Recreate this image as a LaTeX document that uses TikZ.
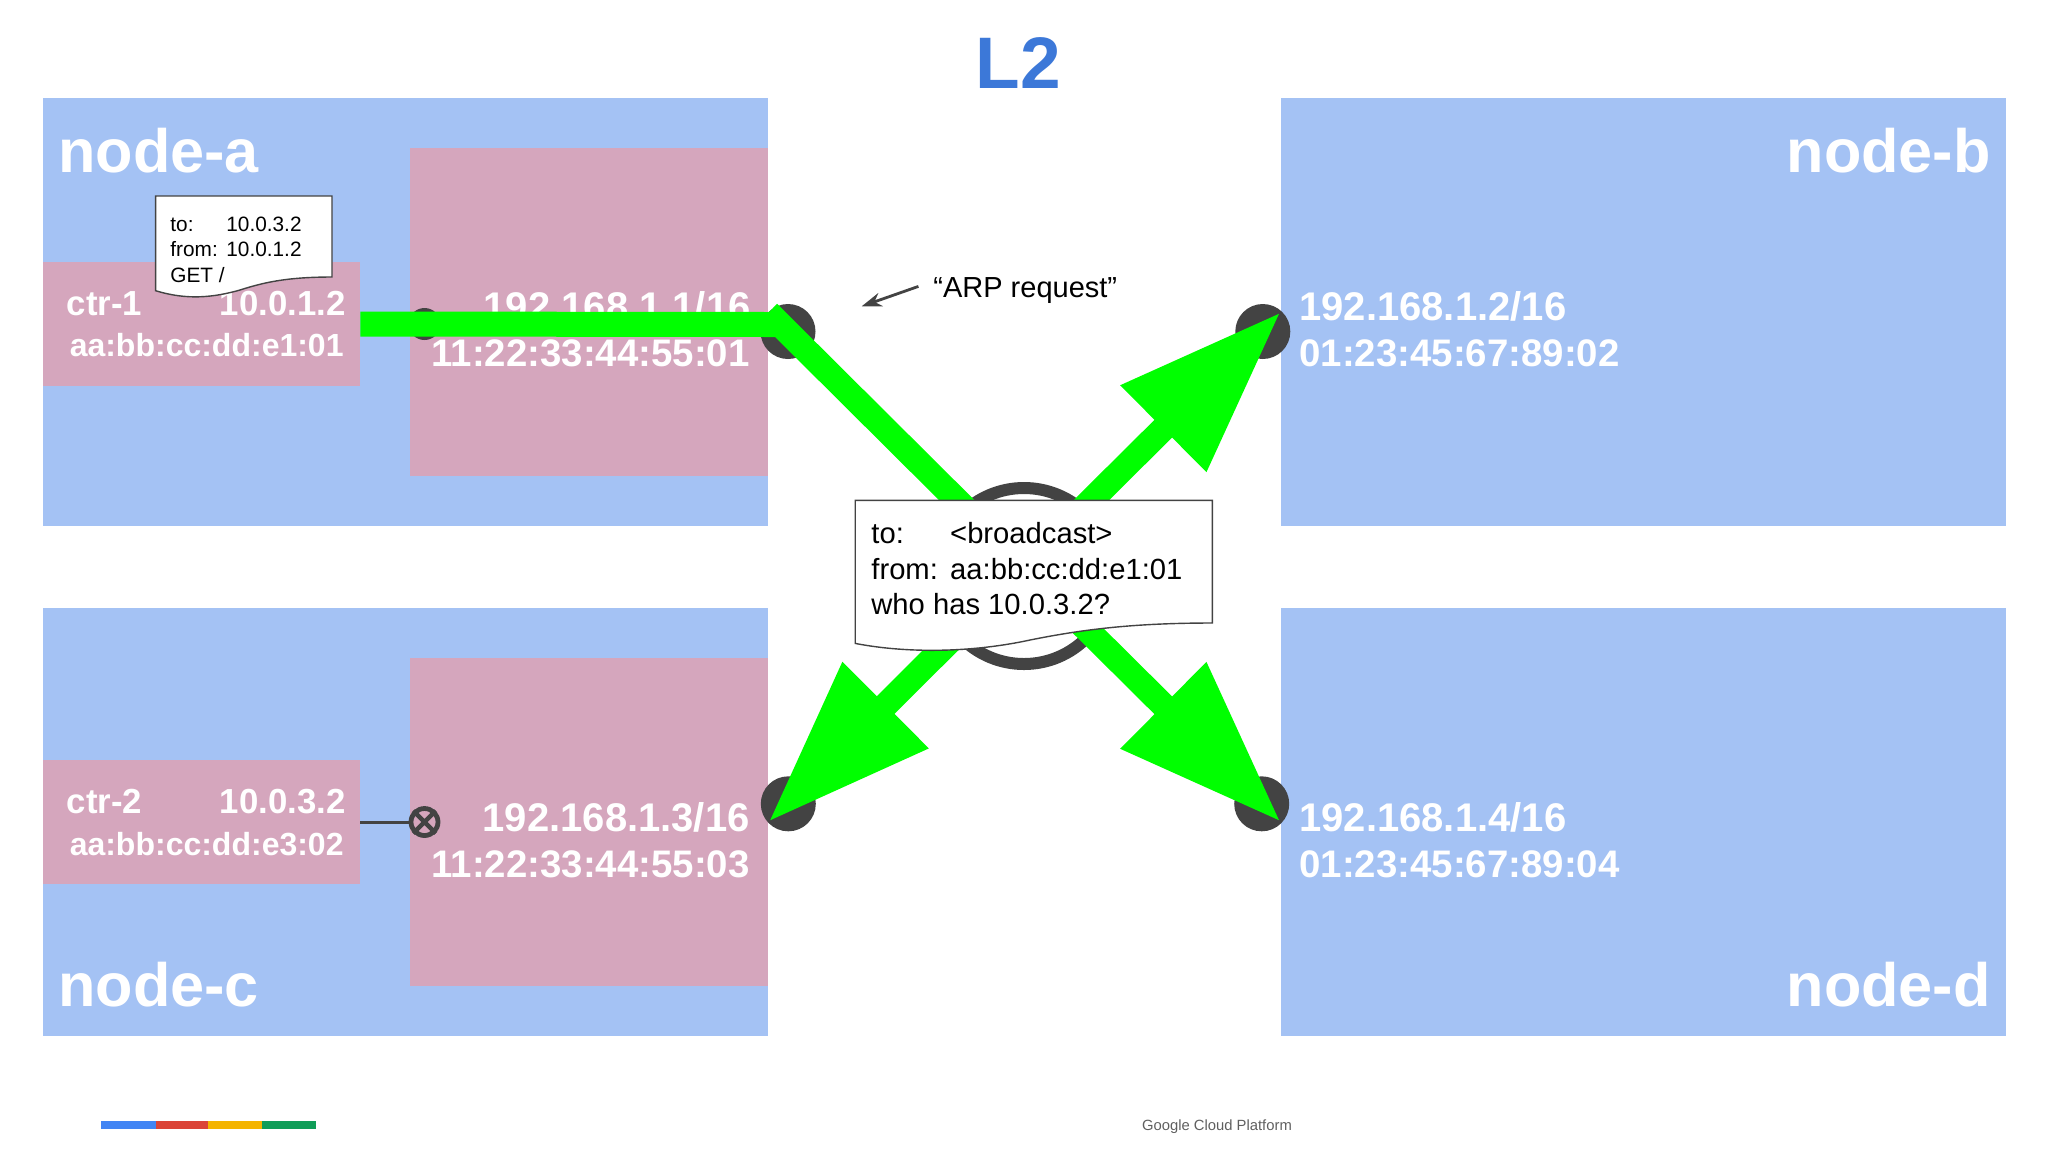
\documentclass[tikz,border=0pt]{standalone}
\usepackage{fontspec}
\setmainfont{Liberation Sans}
\usetikzlibrary{arrows.meta}
\definecolor{nodeblue}{HTML}{A4C2F4}
\definecolor{hostpink}{HTML}{D5A6BD}
\definecolor{dark}{HTML}{434343}
\definecolor{pure}{HTML}{00FF00}
\definecolor{titleblue}{HTML}{3C78D8}
\definecolor{gblue}{HTML}{4285F4}
\definecolor{gred}{HTML}{DB4437}
\definecolor{gyellow}{HTML}{F4B400}
\definecolor{ggreen}{HTML}{0F9D58}
\tikzset{
  x=0.5pt,y=-0.5pt,
  nodebox/.style={draw=none,fill=nodeblue,rectangle,inner sep=0,outer sep=0,minimum width=362.5pt,minimum height=214.1pt},
  hostbox/.style={draw=none,fill=hostpink,rectangle,inner sep=0,outer sep=0,minimum width=179pt,minimum height=164pt},
  ctrbox/.style={draw=none,fill=hostpink,rectangle,inner sep=0,outer sep=0,minimum width=158.5pt,minimum height=62pt},
  port/.style={circle,fill=dark,inner sep=0,minimum size=27.5pt},
  veth/.style={circle,fill=dark,inner sep=0,minimum size=16pt},
  title/.style={text=white,inner sep=0,font=\fontsize{30.6}{31}\selectfont\bfseries},
  addr/.style={text=white,inner sep=0,font=\fontsize{20}{20}\selectfont\bfseries},
  macaddr/.style={text=white,inner sep=0,font=\fontsize{19.2}{20}\selectfont\bfseries},
  ctrtxt/.style={text=white,inner sep=0,font=\fontsize{16}{16}\selectfont\bfseries},
  ctrip/.style={text=white,inner sep=0,font=\fontsize{17.4}{17.4}\selectfont\bfseries},
  bignote/.style={text=black,inner sep=0,font=\fontsize{14.6}{14.6}\selectfont},
  smallnote/.style={text=black,inner sep=0,font=\fontsize{10.4}{10.4}\selectfont},
  paper/.style={fill=white,draw=dark,line width=0.7pt,line join=miter},
  wire/.style={draw=pure,line width=12.5pt},
  bigarrow/.style={wire,-{Triangle[length=82.8pt,width=57.5pt]}},
}
\begin{document}
\begin{tikzpicture}
\useasboundingbox (0,0) rectangle (2048,1153);
% nodes
\node[nodebox,anchor=north west] (na) at (43.4,98) {};
\node[nodebox,anchor=north west] (nb) at (1281,98) {};
\node[nodebox,anchor=north west] (nc) at (43.4,608) {};
\node[nodebox,anchor=north west] (nd) at (1281,608) {};
\node[hostbox,anchor=north west] (ha) at (410.4,148) {};
\node[hostbox,anchor=north west] (hc) at (410.4,658) {};
\node[ctrbox,anchor=north west] (ca) at (43.4,262) {};
\node[ctrbox,anchor=north west] (cc) at (43.4,760) {};
% title
\node[anchor=base,inner sep=0,text=titleblue,font=\fontsize{36.5}{37}\selectfont\bfseries] (l2) at (1018,88.5) {L2};
\node[title,anchor=base west] (ta) at (58,172.7) {node-a};
\node[title,anchor=base east] (tb) at (1991,172.7) {node-b};
\node[title,anchor=base west] (tc) at (58,1006.7) {node-c};
\node[title,anchor=base east] (td) at (1991,1006.7) {node-d};
% addresses
\node[addr,anchor=base east] (ipa) at (751,320) {192.168.1.1/16};
\node[macaddr,anchor=base east] (maca) at (750,366) {11:22:33:44:55:01};
\node[addr,anchor=base east] (ipc) at (750,831) {192.168.1.3/16};
\node[macaddr,anchor=base east] (macc) at (750,877) {11:22:33:44:55:03};
\node[addr,anchor=base west] (ipb) at (1299,320) {192.168.1.2/16};
\node[macaddr,anchor=base west] (macb) at (1299,366) {01:23:45:67:89:02};
\node[addr,anchor=base west] (ipd) at (1299,831) {192.168.1.4/16};
\node[macaddr,anchor=base west] (macd) at (1299,877) {01:23:45:67:89:04};
\node[ctrip,anchor=base west] (cna) at (66.5,315.7) {ctr-1};
\node[ctrip,anchor=base east] (cia) at (346,315.7) {10.0.1.2};
\node[ctrtxt,anchor=base east] (cma) at (344,356.5) {aa:bb:cc:dd:e1:01};
\node[ctrip,anchor=base west] (cnc) at (66.5,813.3) {ctr-2};
\node[ctrip,anchor=base east] (cic) at (346,813.3) {10.0.3.2};
\node[ctrtxt,anchor=base east] (cmc) at (344,855) {aa:bb:cc:dd:e3:02};
% ports
\node[port] (pa) at (788,331.5) {};
\node[port] (pb) at (1262.8,331.5) {};
\node[port] (pc) at (788.3,803.8) {};
\node[port] (pd) at (1261.7,803.8) {};
\node[veth] (va) at (424.5,324) {};
% crossed veth on node-c
\node[circle,draw=dark,fill=none,line width=2.4pt,inner sep=0,minimum size=13.5pt] (vc) at (424.5,822) {};
\draw[dark,line width=2.2pt] (vc.north east) -- (vc.south west) (vc.north west) -- (vc.south east);
\draw[dark,line width=1.5pt] (cc.east) -- (vc.west);
% hub
\node[circle,draw=dark,fill=white,line width=6pt,inner sep=0,minimum size=88pt] (hub) at (1024,576) {};
% green path
\coordinate (core) at (1024,567);
\coordinate (bend) at (775,324.5);
\coordinate (bendstart) at (768.3,312.7);
\coordinate (tipb) at (1280.8,312);
\coordinate (tipc) at (768.4,822);
\coordinate (tipd) at (1280.8,822);
\draw[wire] (ca.east) -- (bend);
\draw[wire] (bendstart) -- (core);
\draw[bigarrow] (core) -- (tipb);
\draw[bigarrow] (core) -- (tipc);
\draw[bigarrow] (core) -- (tipd);
% small note
\path[paper] (155.6,196) -- (332,196) -- (332,277)
  .. controls (285,277) and (262,283) .. (240,290)
  .. controls (205,300) and (180,298) .. (155.6,290.7) -- cycle;
\node[smallnote,anchor=base west] (s1) at (170,231.7) {\makebox[28pt][l]{to:}10.0.3.2};
\node[smallnote,anchor=base west] (s2) at (170,256.7) {\makebox[28pt][l]{from:}10.0.1.2};
\node[smallnote,anchor=base west] (s3) at (170,282.7) {GET /};
% big note
\path[paper] (855.2,500.3) -- (1212.3,500.3) -- (1212.3,623)
  .. controls (1130,623) and (1080,630) .. (1030,640)
  .. controls (975,652) and (910,654) .. (855.2,643.4) -- cycle;
\node[bignote,anchor=base west] (b1) at (871,543.4) {\makebox[39.4pt][l]{to:}<broadcast>};
\node[bignote,anchor=base west] (b2) at (871,579) {\makebox[39.4pt][l]{from:}aa:bb:cc:dd:e1:01};
\node[bignote,anchor=base west] (b3) at (871,614.2) {who has 10.0.3.2?};
% ARP label
\node[anchor=base west,inner sep=0,text=black,font=\fontsize{14.5}{14.5}\selectfont] (arp) at (933,297.2) {“ARP request”};
\coordinate (arpfrom) at (918.4,286.4);
\coordinate (arpto) at (861.7,306.3);
\draw[dark,line width=1.4pt,-{Stealth[length=10pt,width=7pt]}] (arpfrom) -- (arpto);
% footer
\node[anchor=base,inner sep=0,text=dark!85!white,font=\fontsize{7.4}{7.4}\selectfont] (gcp) at (1217,1130) {Google Cloud Platform};
\fill[gblue] (101,1120.7) rectangle (155.6,1128.7);
\fill[gred] (155.6,1120.7) rectangle (208,1128.7);
\fill[gyellow] (208,1120.7) rectangle (261.7,1128.7);
\fill[ggreen] (261.7,1120.7) rectangle (316,1128.7);
\end{tikzpicture}
\end{document}
